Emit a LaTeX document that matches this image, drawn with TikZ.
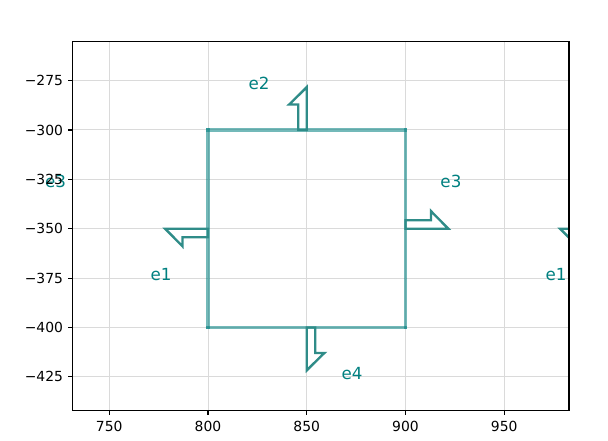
\documentclass[tikz,border=0pt]{standalone}
\usepackage{fontspec}
\setmainfont{DejaVu Sans}
\definecolor{sideteal}{HTML}{008080}
\definecolor{flowteal}{HTML}{2F8C88}
\definecolor{gridgray}{HTML}{DADADA}

\begin{document}
\begin{tikzpicture}[
  x=1pt,
  y=1pt,
  axesframe/.style={draw=black,line width=1.1pt},
  gridline/.style={draw=gridgray,line width=1pt},
  tickmark/.style={draw=black,line width=1.1pt},
  ticklabel/.style={font=\fontsize{13.9}{16}\selectfont,inner sep=0pt},
  cellside/.style={draw=sideteal,draw opacity=0.55,line width=3.5pt,line cap=rect},
  outflow/.style={draw=flowteal,line width=2.4pt,line join=miter},
  sidelabel/.style={font=\fontsize{16.7}{20}\selectfont,text=sideteal,inner sep=0pt}
]
  % Page is 608 x 441 px, one px per pt.
  \useasboundingbox (0,0) rectangle (608,441);

  % Data units: 1.975 px per unit, (800,-300) sits at px (208,130).
  \begin{scope}[x=1.975pt,y=1.975pt,shift={(-1372pt,903.5pt)}]
    % Axes limits.
    \coordinate (lowleft) at (731.6,-441.8);
    \coordinate (upright) at (982.8,-255.4);

    % Cell corners.
    \coordinate (nw) at (800,-300);
    \coordinate (ne) at (900,-300);
    \coordinate (se) at (900,-400);
    \coordinate (sw) at (800,-400);

    % Light grid under everything.
    \foreach \gx in {750,800,...,950} {
      \draw[gridline] (\gx,-441.8) -- (\gx,-255.4);
    }
    \foreach \gy in {-275,-300,...,-425} {
      \draw[gridline] (731.6,\gy) -- (982.8,\gy);
    }

    \begin{scope}
      \clip (lowleft) rectangle (upright);

      % Each side drawn on its own, so the corners overlap darker.
      \draw[cellside] (sw) -- (nw);
      \draw[cellside] (nw) -- (ne);
      \draw[cellside] (ne) -- (se);
      \draw[cellside] (se) -- (sw);

      % Half-headed outward arrows at side midpoints (last one from the next cell).
      \foreach \bx/\by/\ang in {800/-350/180,850/-300/90,900/-350/0,850/-400/270,1000/-350/180} {
        \draw[outflow,shift={(\bx,\by)},rotate=\ang]
          (0,0) -- (0,4.3) -- (12.9,4.3) -- (12.9,8.9) -- (21.7,0) -- cycle;
      }
    \end{scope}

    % Side labels; the outer two belong to neighbouring cells.
    \node[sidelabel] (e1) at (776.2,-373.4) {e1};
    \node[sidelabel] (e2) at (825.8,-276.2) {e2};
    \node[sidelabel] (e3) at (923.0,-325.8) {e3};
    \node[sidelabel] (e4) at (872.9,-423.5) {e4};
    \node[sidelabel] (e3left) at (722.8,-325.8) {e3};
    \node[sidelabel] (e1right) at (976.2,-373.4) {e1};

    % Frame, ticks and tick labels.
    \draw[axesframe] (lowleft) rectangle (upright);
    \foreach \gx in {750,800,...,950} {
      \draw[tickmark] (\gx,-441.8) -- ++(0,-4.9pt);
      \node[ticklabel,anchor=north] (xl\gx) at ([yshift=-10.5pt]\gx,-441.8) {\gx};
    }
    \foreach \gy in {-275,-300,...,-425} {
      \pgfmathtruncatemacro\absy{-\gy}
      \draw[tickmark] (731.6,\gy) -- ++(-4.9pt,0);
      \node[ticklabel,anchor=east] (yl\absy) at ([xshift=-9.7pt]731.6,\gy) {−\absy};
    }
  \end{scope}
\end{tikzpicture}
\end{document}
